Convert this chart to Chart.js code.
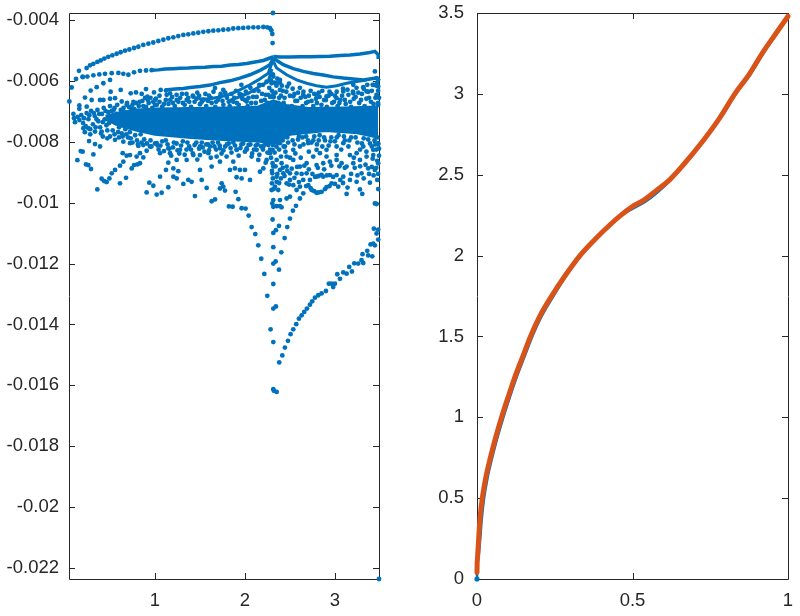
<!DOCTYPE html>
<html>
<head>
<meta charset="utf-8">
<script src="https://cdn.jsdelivr.net/npm/chart.js@4"></script>
<style>
  html, body { margin: 0; padding: 0; background: #fff; }
  canvas { position: absolute; top: 0; }
  #left { left: 0; }
  #right { left: 400px; }
</style>
</head>
<body>
<canvas id="left" width="400" height="616"></canvas>
<canvas id="right" width="400" height="616"></canvas>
<script>
const leftXTicks = [1, 2, 3];
const leftYTicks = [-0.004, -0.006, -0.008, -0.01, -0.012, -0.014, -0.016, -0.018, -0.02, -0.022];
const rightXTicks = [0, 0.5, 1];
const rightYTicks = [0, 0.5, 1, 1.5, 2, 2.5, 3, 3.5];

const topArcX = [0.048, 0.074, 0.122, 0.155, 0.196, 0.24, 0.278, 0.315, 0.359, 0.396, 0.437, 0.481, 0.526, 0.574, 0.618, 0.667, 0.715, 0.767, 0.815, 0.87, 0.926, 0.981, 1.037, 1.093, 1.148, 1.204, 1.259, 1.315, 1.37, 1.426, 1.481, 1.537, 1.593, 1.648, 1.704, 1.759, 1.815, 1.87, 1.926, 1.981, 2.037, 2.093, 2.148, 2.204, 2.248, 2.278, 2.293, 2.304, 2.307, 2.311];
const topArcY = [-0.00667, -0.00621, -0.00593, -0.00566, -0.00585, -0.00557, -0.00548, -0.00543, -0.00537, -0.00532, -0.00526, -0.0052, -0.00515, -0.0051, -0.00505, -0.005, -0.00496, -0.00491, -0.00487, -0.00481, -0.00477, -0.00473, -0.00468, -0.00464, -0.00459, -0.00456, -0.00452, -0.00448, -0.00446, -0.00443, -0.00441, -0.00438, -0.00436, -0.00434, -0.00433, -0.00431, -0.0043, -0.00427, -0.00426, -0.00425, -0.00424, -0.00423, -0.00423, -0.00422, -0.00423, -0.00426, -0.00433, -0.00445, -0.00475, -0.00376];

const secondArcX = [0.196, 0.248, 0.315, 0.381, 0.444, 0.519, 0.593, 0.648, 0.704, 0.767, 0.833, 0.9, 0.963];
const secondArcY = [-0.00587, -0.00585, -0.00581, -0.00578, -0.00576, -0.00574, -0.00573, -0.00576, -0.00579, -0.00571, -0.00566, -0.00565, -0.00564];

// dense stretches, where the dots run together into a line
const ridgeLeftX = [0.963, 1.037, 1.111, 1.204, 1.278, 1.37, 1.463, 1.556, 1.648, 1.741, 1.833, 1.926, 2.019, 2.111, 2.204, 2.278, 2.315];
const ridgeLeftY = [-0.00564, -0.00563, -0.0056, -0.00559, -0.00558, -0.00557, -0.00555, -0.00554, -0.00552, -0.00551, -0.00547, -0.00545, -0.00542, -0.00537, -0.00532, -0.00524, -0.00519];
const ridgeRightX = [2.315, 2.389, 2.5, 2.611, 2.722, 2.833, 2.944, 3.056, 3.167, 3.278, 3.37, 3.444, 3.481, 3.481];
const ridgeRightY = [-0.00519, -0.00521, -0.00521, -0.0052, -0.0052, -0.00519, -0.00518, -0.00516, -0.00514, -0.00511, -0.00507, -0.00502, -0.00513, -0.00527];
const fanLeft1X = [2.315, 2.278, 2.167, 2.056, 1.944, 1.833, 1.722, 1.611, 1.5, 1.389, 1.315, 1.222, 1.111];
const fanLeft1Y = [-0.00525, -0.00546, -0.00565, -0.00579, -0.0059, -0.00599, -0.00605, -0.00613, -0.00618, -0.00621, -0.00624, -0.00626, -0.00629];
const fanLeft2X = [2.3, 2.259, 2.148, 2.037, 1.926, 1.815, 1.704, 1.593, 1.481];
const fanLeft2Y = [-0.0054, -0.00574, -0.00596, -0.00615, -0.00631, -0.00645, -0.00653, -0.00659, -0.00658];
const fanLeft3X = [2.3, 2.259, 2.148, 2.037, 1.926, 1.815];
const fanLeft3Y = [-0.0056, -0.00601, -0.0062, -0.0064, -0.00653, -0.00665];
const fanRight1X = [2.315, 2.426, 2.537, 2.648, 2.759, 2.87, 2.981, 3.093, 3.204, 3.315, 3.463];
const fanRight1Y = [-0.00525, -0.00546, -0.00559, -0.00568, -0.00575, -0.0058, -0.00586, -0.0059, -0.00593, -0.00596, -0.0059];
const fanRight2X = [2.315, 2.352, 2.463, 2.574, 2.685, 2.796, 2.907, 3.019, 3.13, 3.241, 3.352];
const fanRight2Y = [-0.00535, -0.00557, -0.00579, -0.00596, -0.00607, -0.00615, -0.0062, -0.00615, -0.00607, -0.00601, -0.00596];

// outline of the solid core of the cloud
const bandUpperX = [0.45, 0.6, 0.8, 1.0, 1.4, 1.8, 2.15, 2.315, 2.46, 2.7, 3.1, 3.48];
const bandUpperY = [-0.00715, -0.00705, -0.00695, -0.00692, -0.0069, -0.00688, -0.00685, -0.00665, -0.0068, -0.0069, -0.00688, -0.00685];
const bandLowerX = [0.45, 0.6, 0.8, 1.0, 1.4, 1.8, 2.15, 2.315, 2.5, 2.9, 3.25, 3.48];
const bandLowerY = [-0.00725, -0.00745, -0.00762, -0.00775, -0.00785, -0.00793, -0.00797, -0.00805, -0.00775, -0.00762, -0.0077, -0.00785];

const upperCloudX = [0.5, 0.426, 0.352, 0.285, 0.222, 0.159, 0.159, 0.093, 0.241, 0.296, 0.389, 0.426, 0.5, 0.507, 0.619, 0.556, 0.685, 0.63, 0.73, 0.789, 0.852, 0.9, 0.915, 1.0, 0.989, 1.063, 1.122, 1.167, 1.426, 1.759, 1.667, 1.963, 1.241, 1.352, 2.019, 0.111, 2.389, 2.537, 2.648, 2.796, 2.907, 3.019, 3.093, 3.204, 3.352, 3.463, 3.481, 3.426, 3.315, 3.204, 3.481, 2.389, 2.315, 2.315, 2.352, 2.296, 3.444, 3.463];
const upperCloudY = [-0.00596, -0.00607, -0.0062, -0.00631, -0.00654, -0.0068, -0.00691, -0.00708, -0.00684, -0.00662, -0.00662, -0.00662, -0.00658, -0.00635, -0.00629, -0.00656, -0.00678, -0.00667, -0.0064, -0.00637, -0.00642, -0.00626, -0.00651, -0.00662, -0.00637, -0.00629, -0.00631, -0.0064, -0.00651, -0.00629, -0.00623, -0.00645, -0.00662, -0.00662, -0.00667, -0.00735, -0.00596, -0.0065, -0.00645, -0.00645, -0.0065, -0.00656, -0.00634, -0.0064, -0.00634, -0.00645, -0.00618, -0.00612, -0.0062, -0.00612, -0.00678, -0.00629, -0.00645, -0.00585, -0.00607, -0.00607, -0.00568, -0.0059];

const lowerLeftX = [0.204, 0.259, 0.333, 0.407, 0.5, 0.556, 0.648, 0.722, 0.815, 0.87, 0.944, 0.267, 0.333, 0.389, 0.174, 0.196, 0.315, 0.137, 0.233, 0.259, 0.289, 0.641, 0.685, 0.722, 0.796, 0.833, 0.907, 0.87, 0.648, 0.611, 0.556, 0.519, 0.493, 0.463, 0.437, 0.407, 0.359, 0.611, 0.678, 0.741, 0.767, 0.804, 0.833, 1.056, 1.148, 1.122, 1.204, 1.259, 1.204, 1.241, 0.937, 0.981, 0.907, 1.019, 1.074, 1.148, 1.315, 1.37, 1.407, 1.519, 1.574, 1.444, 1.667, 1.63, 1.741, 1.759, 1.722, 1.778, 1.907, 1.963, 2.056, 1.896, 1.926, 2.167, 2.204, 1.5, 1.63, 1.722, 1.833, 1.889, 1.944, 2.0, 1.352, 1.426, 1.5, 1.593, 1.685, 1.796, 1.87, 1.241, 1.167, 1.056, 1.148, 1.278, 1.019, 1.5, 1.611, 1.722, 1.907, 2.019, 2.13, 2.241, 2.278, 2.204, 2.074, 2.148];
const lowerLeftY = [-0.00755, -0.00755, -0.00766, -0.00766, -0.00782, -0.00793, -0.00799, -0.00804, -0.00813, -0.0081, -0.00815, -0.00797, -0.00807, -0.00815, -0.0083, -0.00832, -0.00841, -0.0086, -0.00874, -0.00876, -0.00889, -0.00837, -0.00845, -0.00843, -0.00848, -0.00837, -0.00829, -0.00851, -0.00865, -0.00878, -0.00892, -0.00903, -0.0092, -0.00932, -0.00929, -0.00921, -0.00956, -0.00936, -0.00918, -0.00887, -0.00876, -0.00874, -0.0087, -0.00914, -0.00868, -0.00892, -0.00887, -0.00896, -0.00914, -0.0092, -0.00934, -0.00944, -0.00966, -0.00973, -0.00967, -0.00949, -0.00938, -0.00925, -0.00931, -0.00925, -0.00951, -0.00978, -0.00989, -0.00995, -0.00936, -0.00947, -0.00953, -0.0096, -0.00916, -0.0092, -0.00925, -0.00964, -0.00988, -0.00898, -0.00887, -0.00892, -0.00881, -0.00865, -0.00892, -0.00887, -0.00892, -0.00892, -0.00859, -0.00843, -0.00843, -0.00837, -0.00848, -0.00848, -0.00865, -0.00859, -0.00837, -0.00837, -0.00821, -0.00826, -0.00804, -0.00815, -0.00815, -0.00821, -0.00826, -0.00821, -0.00826, -0.00859, -0.00837, -0.00815, -0.00848, -0.00859];

const lowerRightX = [2.307, 2.307, 2.304, 2.3, 2.296, 2.333, 2.352, 2.37, 2.315, 2.304, 2.352, 2.407, 2.389, 2.463, 2.5, 2.611, 2.352, 2.407, 2.463, 2.537, 2.611, 2.685, 2.759, 2.833, 2.907, 3.019, 3.093, 2.796, 2.87, 2.944, 3.019, 3.074, 3.13, 3.204, 3.278, 3.352, 3.426, 3.481, 3.444, 3.37, 3.296, 3.241, 3.167, 3.093, 3.019, 2.944, 2.87, 2.796, 2.722, 2.704, 2.741, 2.796, 2.852, 2.907, 2.963, 3.037, 3.13, 3.278, 3.304, 3.389, 3.481, 2.685, 2.5, 2.463, 2.537, 2.611, 2.648, 2.574, 2.463, 2.389, 2.315, 2.426, 2.352, 2.5, 2.574, 2.648, 3.167, 3.241, 3.315, 3.426, 3.481, 3.019, 2.907, 2.796, 2.704, 2.611, 2.537, 2.444, 2.389];
const lowerRightY = [-0.00826, -0.0087, -0.00903, -0.00936, -0.00958, -0.00947, -0.00931, -0.00958, -0.00991, -0.01002, -0.01011, -0.01015, -0.00991, -0.00986, -0.0098, -0.00986, -0.00859, -0.0087, -0.00848, -0.00859, -0.00881, -0.0087, -0.00848, -0.00837, -0.00826, -0.00815, -0.00804, -0.00876, -0.0087, -0.00865, -0.00859, -0.0087, -0.00881, -0.0087, -0.00859, -0.00848, -0.00843, -0.0087, -0.00892, -0.00887, -0.00903, -0.00931, -0.00925, -0.00914, -0.00909, -0.00909, -0.00914, -0.00914, -0.00925, -0.00942, -0.00958, -0.00967, -0.00964, -0.00949, -0.00936, -0.00947, -0.00971, -0.00956, -0.00971, -0.00934, -0.00955, -0.00903, -0.00925, -0.00936, -0.00942, -0.00947, -0.00969, -0.00958, -0.00881, -0.00892, -0.00881, -0.00903, -0.00914, -0.00903, -0.00903, -0.00925, -0.00843, -0.00837, -0.00815, -0.00826, -0.00804, -0.00843, -0.00848, -0.00826, -0.00804, -0.00815, -0.00826, -0.00815, -0.00804];

const deepX = [1.822, 1.863, 1.963, 2.007, 2.041, 2.074, 2.115, 2.148, 2.181, 2.215, 2.248, 2.285, 2.315, 2.315, 2.389, 2.307, 2.315, 2.344, 2.378, 2.315, 2.404, 2.315, 2.341, 2.378, 2.315, 2.315, 2.344, 2.315, 2.322, 2.352, 2.567, 2.533, 2.5, 2.47, 2.441];
const deepY = [-0.01012, -0.01013, -0.01018, -0.01019, -0.01042, -0.0108, -0.01103, -0.0114, -0.01184, -0.01234, -0.01306, -0.01416, -0.01458, -0.01013, -0.01011, -0.01055, -0.01099, -0.0109, -0.01076, -0.01146, -0.01163, -0.012, -0.01193, -0.0122, -0.01267, -0.01348, -0.01341, -0.01613, -0.01618, -0.01622, -0.0101, -0.01026, -0.01052, -0.0108, -0.01116];

const recoveryX = [2.381, 2.415, 2.444, 2.478, 2.507, 2.537, 2.57, 2.6, 2.63, 2.659, 2.689, 2.722, 2.748, 2.778, 2.815, 2.852, 2.9, 2.933, 2.963, 2.981, 3.0, 3.026, 3.056, 3.093, 3.13, 3.159, 3.189, 3.215, 3.259, 3.296, 3.315, 3.307, 3.359, 3.37, 3.415, 3.396, 3.426, 3.444, 3.481, 3.433, 3.481, 3.463, 3.463, 3.444, 3.49];
const recoveryY = [-0.01525, -0.01502, -0.01476, -0.01454, -0.01432, -0.01416, -0.01399, -0.01381, -0.0137, -0.01359, -0.01348, -0.01335, -0.01324, -0.01312, -0.01304, -0.01298, -0.0129, -0.01266, -0.01266, -0.01277, -0.01266, -0.01235, -0.0125, -0.01229, -0.01233, -0.01211, -0.01226, -0.01199, -0.012, -0.01189, -0.01198, -0.01169, -0.01158, -0.01173, -0.01176, -0.01137, -0.01134, -0.0114, -0.01121, -0.01085, -0.01088, -0.01101, -0.01004, -0.01002, -0.02237];

const leftCloud = [[0.1, -0.00722], [0.14, -0.00718], [0.18, -0.00712], [0.2, -0.00738], [0.24, -0.00705], [0.26, -0.00725], [0.29, -0.00698], [0.31, -0.00742], [0.33, -0.00715], [0.36, -0.00695], [0.37, -0.00732], [0.39, -0.00752], [0.41, -0.00708], [0.43, -0.00688], [0.44, -0.00726], [0.46, -0.00745], [0.48, -0.00702], [0.5, -0.00682], [0.51, -0.00722], [0.53, -0.00762], [0.54, -0.00695], [0.56, -0.00738], [0.58, -0.00678], [0.6, -0.00752], [0.61, -0.00712], [0.63, -0.00772], [0.65, -0.00688], [0.67, -0.00758], [0.69, -0.00672], [0.7, -0.00785], [0.72, -0.00768], [0.74, -0.00692], [0.76, -0.00668], [0.78, -0.00778], [0.8, -0.00795], [0.82, -0.00682], [0.84, -0.00775], [0.86, -0.00665], [0.88, -0.00792], [0.9, -0.00685], [0.93, -0.00672], [0.95, -0.00795], [0.97, -0.00688], [1.0, -0.00805], [1.02, -0.00678], [1.05, -0.00668]];

const leftCloud2 = [[0.16, -0.00728], [0.21, -0.00722], [0.23, -0.00748], [0.27, -0.00712], [0.28, -0.00758], [0.32, -0.00705], [0.34, -0.00752], [0.35, -0.00725], [0.38, -0.00708], [0.4, -0.00772], [0.42, -0.00735], [0.45, -0.00698], [0.47, -0.00762], [0.49, -0.00738], [0.52, -0.00698], [0.55, -0.00688], [0.55, -0.00775], [0.57, -0.00708], [0.59, -0.00768], [0.62, -0.00695], [0.64, -0.00782], [0.66, -0.00702], [0.68, -0.00775], [0.71, -0.00685], [0.73, -0.00788], [0.75, -0.00678], [0.77, -0.00692], [0.79, -0.00672], [0.81, -0.00808], [0.83, -0.00668], [0.85, -0.00802], [0.87, -0.00682], [0.89, -0.00655], [0.91, -0.00805], [0.92, -0.00662], [0.96, -0.00815], [0.98, -0.00668], [1.01, -0.00658], [1.04, -0.00825], [0.75, -0.00802], [0.6, -0.00785], [0.47, -0.00788], [0.42, -0.00782], [0.28, -0.00775], [0.22, -0.00768]];

const upperBelt = [[1.08, -0.00684], [1.12, -0.00662], [1.15, -0.00675], [1.19, -0.00652], [1.22, -0.00682], [1.26, -0.00668], [1.3, -0.00642], [1.33, -0.00678], [1.37, -0.00655], [1.4, -0.00685], [1.44, -0.00668], [1.47, -0.00638], [1.5, -0.00676], [1.54, -0.00662], [1.57, -0.00682], [1.6, -0.00648], [1.63, -0.00672], [1.67, -0.00685], [1.7, -0.00662], [1.73, -0.00642], [1.76, -0.00678], [1.8, -0.00655], [1.83, -0.00682], [1.87, -0.00668], [1.9, -0.00632], [1.93, -0.00678], [1.96, -0.00612], [2.0, -0.00662], [2.03, -0.00682], [2.06, -0.00622], [2.09, -0.00652], [2.12, -0.00672], [2.15, -0.00632], [2.18, -0.00665], [2.2, -0.00612], [2.23, -0.00645], [2.25, -0.00672], [2.27, -0.00622], [2.29, -0.00598], [2.31, -0.00578], [2.33, -0.00605], [2.34, -0.00638], [2.36, -0.00592], [2.38, -0.00655], [2.41, -0.00615], [2.43, -0.00672], [2.46, -0.00635], [2.49, -0.00608], [2.52, -0.00682], [2.55, -0.00642], [2.58, -0.00665], [2.61, -0.00622], [2.64, -0.00682], [2.67, -0.00652], [2.7, -0.00668], [2.73, -0.00632], [2.76, -0.00682], [2.79, -0.00658], [2.82, -0.00638], [2.85, -0.00678], [2.88, -0.00662], [2.91, -0.00685], [2.94, -0.00635], [2.97, -0.00672], [3.0, -0.00648], [3.03, -0.00682], [3.06, -0.00662], [3.09, -0.00625], [3.12, -0.00675], [3.15, -0.00645], [3.18, -0.00685], [3.21, -0.00658], [3.24, -0.00622], [3.27, -0.00672], [3.3, -0.00642], [3.33, -0.00682], [3.36, -0.00612], [3.38, -0.00655], [3.41, -0.00632], [3.43, -0.00675], [3.46, -0.00615], [3.47, -0.00648], [3.48, -0.00672], [3.48, -0.00632]];

const upperBelt2 = [[0.95, -0.00655], [1.0, -0.00678], [1.05, -0.00648], [1.1, -0.00675], [1.13, -0.00645], [1.17, -0.00662], [1.2, -0.00672], [1.24, -0.00645], [1.28, -0.00655], [1.31, -0.00672], [1.35, -0.00642], [1.38, -0.00668], [1.42, -0.00648], [1.46, -0.00658], [1.49, -0.00648], [1.52, -0.00668], [1.56, -0.00642], [1.59, -0.00665], [1.62, -0.00655], [1.65, -0.00635], [1.68, -0.00668], [1.72, -0.00652], [1.75, -0.00665], [1.78, -0.00638], [1.82, -0.00668], [1.85, -0.00642], [1.88, -0.00655], [1.91, -0.00672], [1.94, -0.00642], [1.97, -0.00658], [2.01, -0.00635], [2.04, -0.00655], [2.07, -0.00672], [2.1, -0.00632], [2.13, -0.00652], [2.16, -0.00612], [2.19, -0.00642], [2.22, -0.00662], [2.24, -0.00602], [2.26, -0.00645], [2.28, -0.00652], [2.3, -0.00632], [2.32, -0.00652], [2.35, -0.00615], [2.37, -0.00672], [2.39, -0.00605], [2.4, -0.00648], [2.42, -0.00632], [2.44, -0.00655], [2.47, -0.00618], [2.5, -0.00648], [2.53, -0.00625], [2.56, -0.00665], [2.59, -0.00638], [2.62, -0.00655], [2.65, -0.00635], [2.68, -0.00672], [2.71, -0.00648], [2.74, -0.00665], [2.77, -0.00642], [2.8, -0.00672], [2.83, -0.00652], [2.86, -0.00632], [2.9, -0.00662], [2.93, -0.00648], [2.96, -0.00642], [2.99, -0.00668], [3.02, -0.00635], [3.05, -0.00672], [3.08, -0.00648], [3.11, -0.00662], [3.14, -0.00628], [3.17, -0.00668], [3.2, -0.00635], [3.23, -0.00652], [3.26, -0.00638], [3.29, -0.00662], [3.32, -0.00625], [3.35, -0.00658], [3.37, -0.00635], [3.4, -0.00668], [3.42, -0.00612], [3.45, -0.00655], [3.47, -0.00605], [3.48, -0.00595], [3.49, -0.00655]];

const lowerBelt = [[1.03, -0.00812], [1.08, -0.00798], [1.1, -0.0083], [1.14, -0.00808], [1.18, -0.00845], [1.21, -0.00802], [1.25, -0.00828], [1.29, -0.00812], [1.33, -0.00842], [1.36, -0.00802], [1.4, -0.00825], [1.44, -0.0081], [1.47, -0.00858], [1.52, -0.00802], [1.55, -0.00832], [1.59, -0.00808], [1.62, -0.00852], [1.66, -0.00815], [1.7, -0.00802], [1.74, -0.00838], [1.78, -0.00815], [1.82, -0.00805], [1.85, -0.00835], [1.89, -0.00812], [1.93, -0.00845], [1.96, -0.00808], [2.0, -0.00832], [2.04, -0.0081], [2.08, -0.00838], [2.12, -0.00812], [2.16, -0.00842], [2.2, -0.00825], [2.23, -0.00868], [2.26, -0.0081], [2.29, -0.00852], [2.31, -0.0081], [2.33, -0.00835], [2.36, -0.00802], [2.38, -0.00825], [2.4, -0.00848], [2.42, -0.00795], [2.45, -0.00832], [2.48, -0.00802], [2.5, -0.00852], [2.53, -0.00795], [2.56, -0.00838], [2.59, -0.00792], [2.62, -0.00852], [2.65, -0.00808], [2.68, -0.00782], [2.71, -0.00832], [2.74, -0.00802], [2.77, -0.00782], [2.8, -0.00808], [2.83, -0.00778], [2.86, -0.00815], [2.89, -0.00795], [2.93, -0.00812], [2.96, -0.00785], [3.0, -0.00798], [3.04, -0.00778], [3.07, -0.00825], [3.11, -0.00795], [3.15, -0.00815], [3.18, -0.00785], [3.21, -0.00852], [3.25, -0.00802], [3.28, -0.00825], [3.32, -0.00788], [3.35, -0.00832], [3.39, -0.00805], [3.42, -0.00855], [3.44, -0.00795], [3.46, -0.00825], [3.47, -0.00862], [3.48, -0.00808], [3.49, -0.00845]];

const lowerBelt2 = [[1.06, -0.00812], [1.12, -0.00795], [1.16, -0.00822], [1.2, -0.00818], [1.24, -0.00805], [1.27, -0.00838], [1.31, -0.00798], [1.35, -0.00825], [1.38, -0.00815], [1.42, -0.00838], [1.46, -0.00802], [1.49, -0.00822], [1.53, -0.00818], [1.57, -0.00808], [1.6, -0.00828], [1.64, -0.00802], [1.68, -0.00825], [1.72, -0.00812], [1.76, -0.00828], [1.8, -0.00808], [1.84, -0.0082], [1.87, -0.00802], [1.91, -0.00825], [1.95, -0.0082], [1.98, -0.00805], [2.02, -0.00825], [2.06, -0.00808], [2.1, -0.00825], [2.14, -0.00808], [2.18, -0.00815], [2.22, -0.00808], [2.25, -0.00835], [2.28, -0.00825], [2.35, -0.00815], [2.43, -0.00815], [2.47, -0.00785], [2.55, -0.00808], [2.6, -0.00782], [2.64, -0.00785], [2.7, -0.00795], [2.76, -0.00795], [2.82, -0.00795], [2.88, -0.00785], [2.95, -0.00798], [3.02, -0.00785], [3.1, -0.00782], [3.16, -0.00795], [3.23, -0.00785], [3.3, -0.00805], [3.37, -0.00792], [3.41, -0.00815], [3.45, -0.00808], [3.47, -0.00785], [3.49, -0.00822]];

const lowerRightArcs = [[2.3, -0.00895], [2.31, -0.0092], [2.32, -0.00955], [2.34, -0.0088], [2.36, -0.00905], [2.38, -0.00935], [2.4, -0.0092], [2.42, -0.00885], [2.44, -0.00912], [2.47, -0.00895], [2.49, -0.0094], [2.52, -0.00888], [2.55, -0.00918], [2.58, -0.00882], [2.6, -0.00932], [2.63, -0.00905], [2.66, -0.00878], [2.68, -0.00945], [2.71, -0.0089], [2.73, -0.00952], [2.75, -0.00905], [2.78, -0.00915], [2.77, -0.00962], [2.81, -0.00885], [2.82, -0.00912], [2.82, -0.00966], [2.85, -0.00908], [2.88, -0.0089], [2.89, -0.00955], [2.91, -0.0091], [2.94, -0.00945], [2.96, -0.00878], [2.98, -0.00915], [3.0, -0.00938], [3.05, -0.0088], [3.06, -0.00925], [3.09, -0.00935], [3.11, -0.00885], [3.14, -0.0095], [3.18, -0.00905], [3.22, -0.00885], [3.25, -0.0091], [3.28, -0.0088], [3.32, -0.0092], [3.34, -0.00875], [3.38, -0.00905], [3.41, -0.00882], [3.43, -0.0091], [3.46, -0.00885], [3.47, -0.00925], [3.48, -0.00905]];

const curveOrangeX = [0, 0.0003, 0.0015, 0.0054, 0.0096, 0.017, 0.028, 0.043, 0.06, 0.079, 0.1, 0.122, 0.147, 0.172, 0.202, 0.24, 0.283, 0.331, 0.379, 0.433, 0.463, 0.497, 0.534, 0.575, 0.62, 0.663, 0.727, 0.78, 0.829, 0.875, 0.92, 0.96, 1];
const curveOrangeY = [0.04, 0.08, 0.125, 0.25, 0.375, 0.5, 0.625, 0.75, 0.875, 1, 1.125, 1.25, 1.375, 1.5, 1.625, 1.75, 1.875, 2, 2.1, 2.2, 2.25, 2.3, 2.34, 2.4, 2.47, 2.56, 2.71, 2.85, 3, 3.12, 3.26, 3.37, 3.48];
const curveBlueX = [0, 0.0006, 0.004, 0.0104, 0.0156, 0.023, 0.034, 0.049, 0.066, 0.085, 0.106, 0.128, 0.153, 0.178, 0.208, 0.246, 0.287, 0.335, 0.383, 0.436, 0.466, 0.501, 0.539, 0.58, 0.624, 0.666, 0.73, 0.783, 0.833, 0.879, 0.924, 0.963, 1];
const curveBlueY = [0, 0.08, 0.125, 0.25, 0.375, 0.5, 0.625, 0.75, 0.875, 1, 1.125, 1.25, 1.375, 1.5, 1.625, 1.75, 1.875, 2, 2.1, 2.2, 2.25, 2.29, 2.33, 2.39, 2.47, 2.56, 2.71, 2.85, 3, 3.12, 3.26, 3.37, 3.48];

const BLUE = '#0072BD';
const ORANGE = '#D95319';
const INK = '#262626';
const FONT = { family: '"Liberation Sans", Arial, sans-serif', size: 18.5 };

const zip = (xs, ys) => xs.map((x, i) => ({ x, y: ys[i] }));

const dots = (xs, ys) => ({
  data: zip(xs, ys),
  backgroundColor: BLUE,
  borderWidth: 0,
  pointRadius: 2.4,
  clip: false
});

const pairDots = pairs => dots(pairs.map(p => p[0]), pairs.map(p => p[1]));

const trace = (xs, ys, width = 4) => ({
  data: zip(xs, ys),
  showLine: true,
  borderColor: BLUE,
  borderWidth: width,
  pointRadius: 0,
  clip: false
});

// MATLAB style box: inward ticks on all four sides
const boxAxes = {
  id: 'boxAxes',
  beforeDatasetsDraw(chart) {
    const { ctx, chartArea: a, scales: { x, y } } = chart;
    const len = 6;
    ctx.save();
    ctx.strokeStyle = INK;
    ctx.lineWidth = 1;
    ctx.beginPath();
    ctx.rect(a.left + 0.5, a.top + 0.5, a.right - a.left, a.bottom - a.top);
    for (const t of x.ticks) {
      const px = Math.round(x.getPixelForValue(t.value)) + 0.5;
      ctx.moveTo(px, a.bottom);
      ctx.lineTo(px, a.bottom - len);
      ctx.moveTo(px, a.top);
      ctx.lineTo(px, a.top + len);
    }
    for (const t of y.ticks) {
      const py = Math.round(y.getPixelForValue(t.value)) + 0.5;
      ctx.moveTo(a.left, py);
      ctx.lineTo(a.left + len, py);
      ctx.moveTo(a.right, py);
      ctx.lineTo(a.right - len, py);
    }
    ctx.stroke();
    ctx.restore();
  }
};

function axisOptions({ min, max, ticks, size, padding }) {
  return {
    type: 'linear',
    min, max,
    grid: { display: false },
    border: { display: false },
    afterBuildTicks: scale => { scale.ticks = ticks.map(value => ({ value })); },
    afterFit: scale => {
      if (scale.isHorizontal()) scale.height = size;
      else scale.width = size;
      scale.paddingTop = scale.paddingBottom = scale.paddingLeft = scale.paddingRight = 0;
    },
    ticks: {
      color: INK,
      font: FONT,
      padding,
      autoSkip: false,
      maxRotation: 0,
      minRotation: 0,
      callback: v => String(v)
    }
  };
}

function makeChart(id, datasets, { xAxis, yAxis, right }) {
  return new Chart(document.getElementById(id), {
    type: 'scatter',
    data: { datasets },
    plugins: [boxAxes],
    options: {
      responsive: false,
      devicePixelRatio: 1,
      animation: false,
      layout: { autoPadding: false, padding: { top: 13, right, bottom: 0, left: 0 } },
      plugins: { legend: { display: false }, tooltip: { enabled: false } },
      scales: { x: axisOptions(xAxis), y: axisOptions(yAxis) }
    }
  });
}

makeChart('left', [
  { ...trace(bandUpperX, bandUpperY, 3), fill: '+1', backgroundColor: BLUE },
  trace(bandLowerX, bandLowerY, 3),
  trace(ridgeLeftX, ridgeLeftY, 3.5),
  trace(ridgeRightX, ridgeRightY, 3.5),
  trace(fanLeft1X, fanLeft1Y, 3.5),
  trace(fanLeft2X, fanLeft2Y, 3),
  trace(fanLeft3X, fanLeft3Y, 3),
  trace(fanRight1X, fanRight1Y, 3.5),
  trace(fanRight2X, fanRight2Y, 3),
  dots(topArcX, topArcY),
  dots(secondArcX, secondArcY),
  dots(upperCloudX, upperCloudY),
  dots(lowerLeftX, lowerLeftY),
  dots(lowerRightX, lowerRightY),
  dots(deepX, deepY),
  dots(recoveryX, recoveryY),
  pairDots(leftCloud),
  pairDots(leftCloud2),
  pairDots(upperBelt),
  pairDots(upperBelt2),
  pairDots(lowerBelt),
  pairDots(lowerBelt2),
  pairDots(lowerRightArcs)
], {
  xAxis: { min: 0.044, max: 3.49, ticks: leftXTicks, size: 37, padding: 3 },
  yAxis: { min: -0.02237, max: -0.00376, ticks: leftYTicks, size: 69, padding: 2 },
  right: 21
});

// datasets paint last-to-first, so orange goes ahead of the blue it covers
makeChart('right', [
  { ...dots([0], [0]), pointRadius: 2.6 },
  {
    ...trace(curveOrangeX, curveOrangeY, 5),
    borderColor: ORANGE,
    cubicInterpolationMode: 'monotone',
    borderCapStyle: 'round'
  },
  { ...trace(curveBlueX, curveBlueY, 2.5), cubicInterpolationMode: 'monotone' }
], {
  xAxis: { min: 0, max: 1, ticks: rightXTicks, size: 37, padding: 3 },
  yAxis: { min: 0, max: 3.5, ticks: rightYTicks, size: 77, padding: 5 },
  right: 12
});
</script>
</body>
</html>
